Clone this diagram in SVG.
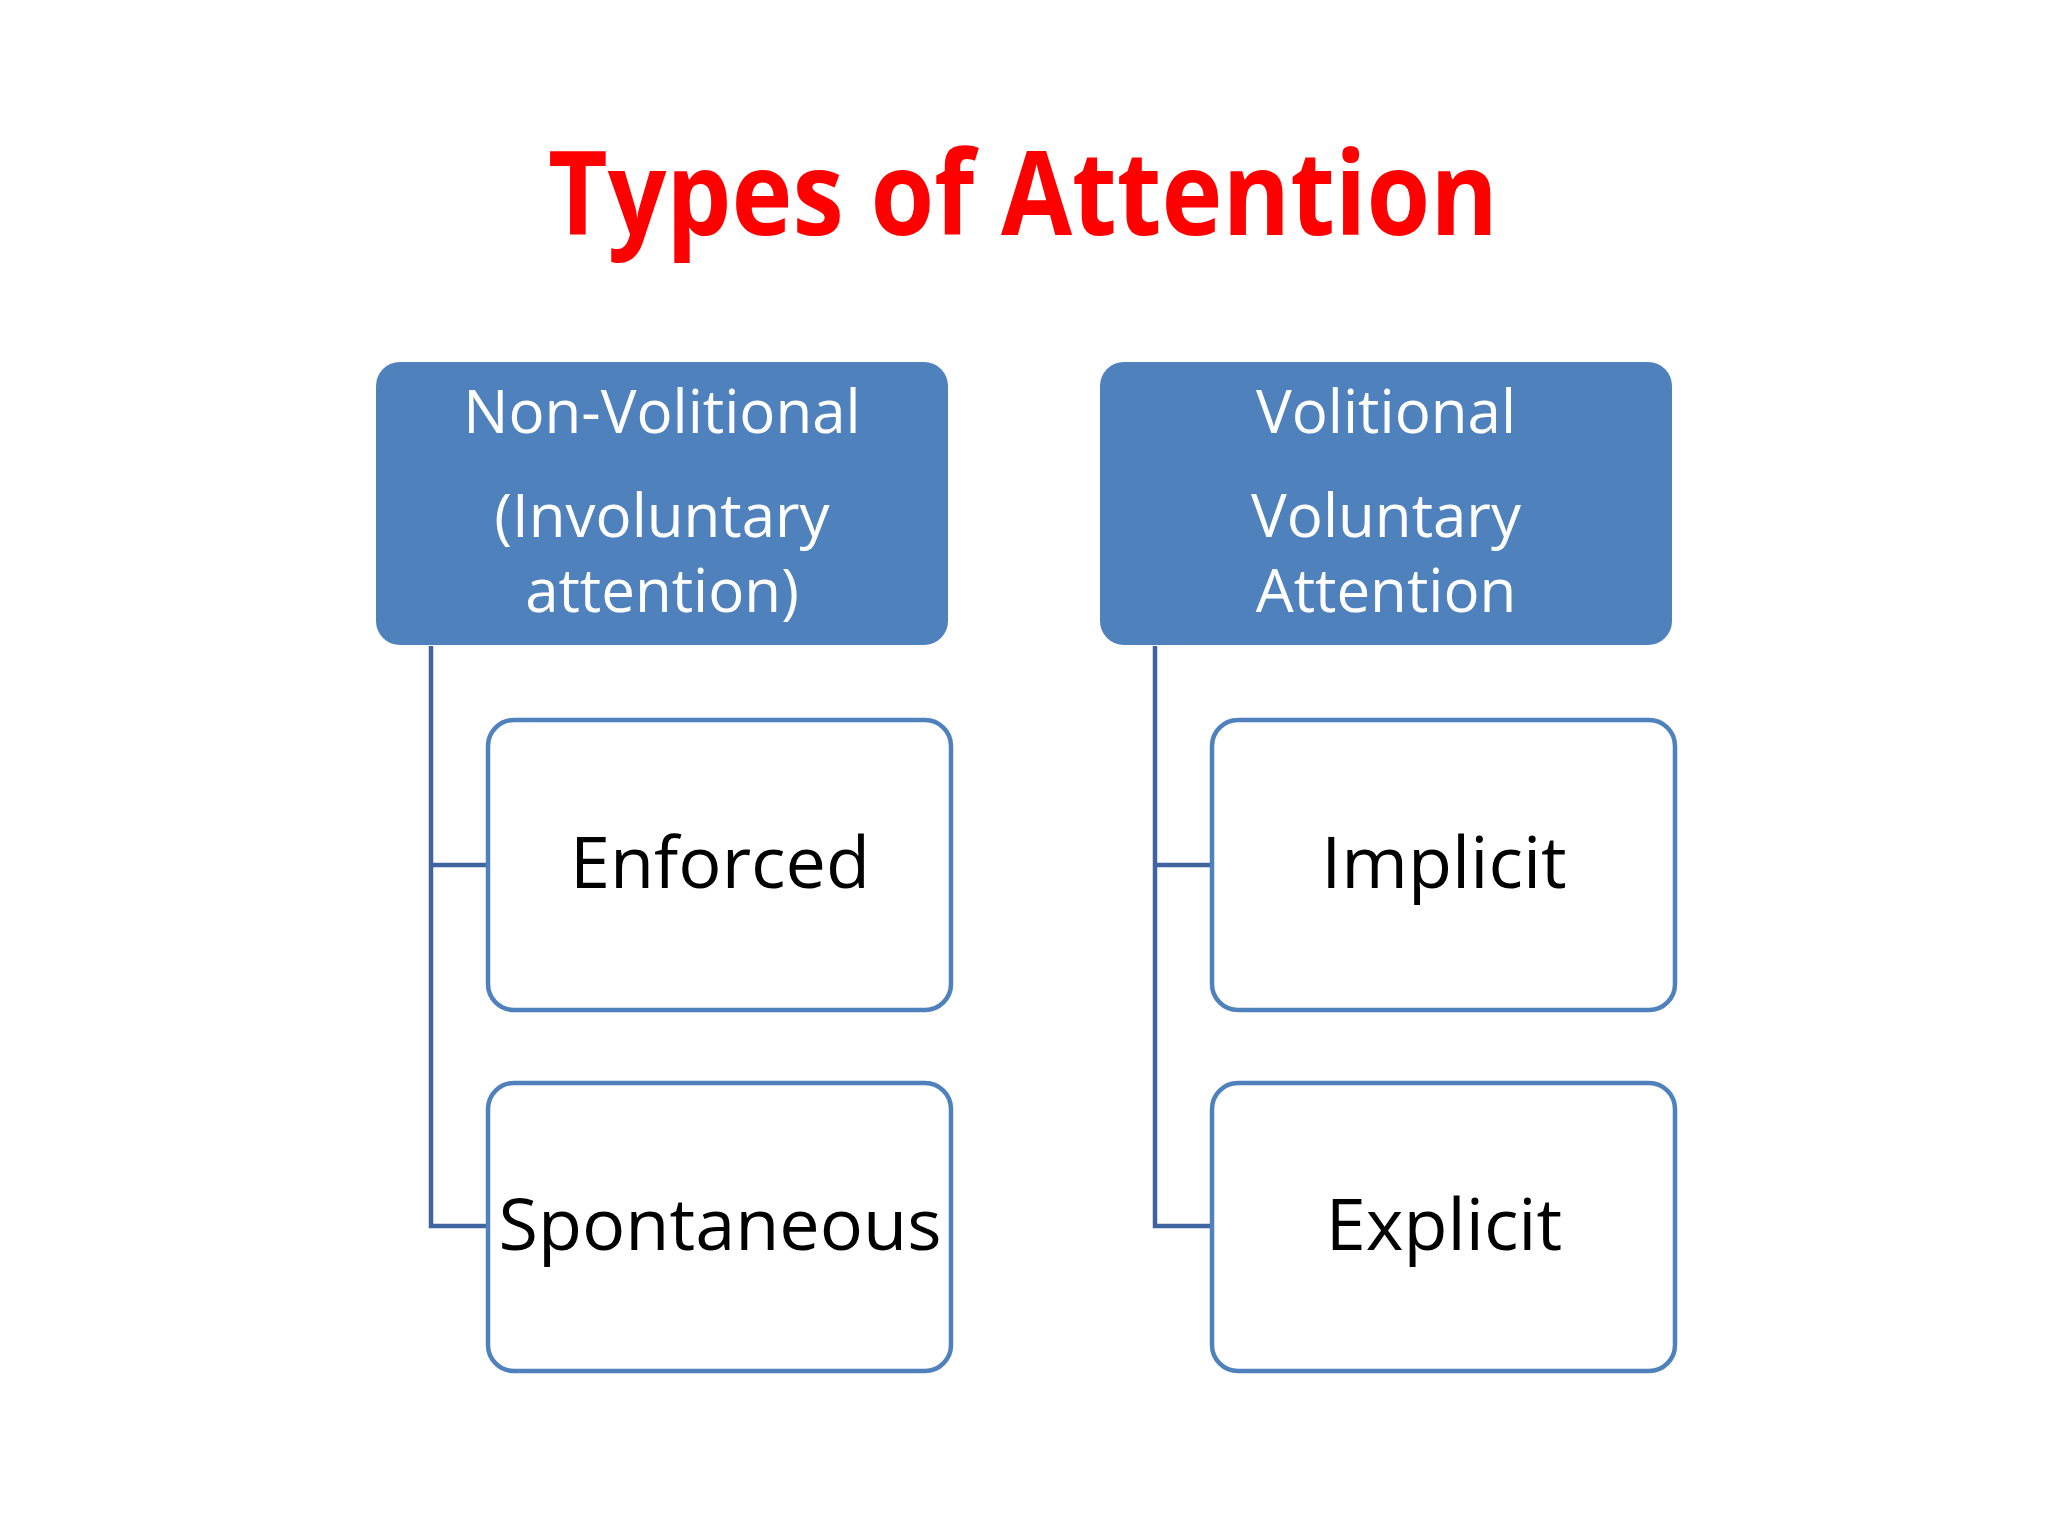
<svg xmlns="http://www.w3.org/2000/svg" width="2048" height="1536" viewBox="0 0 2048 1536">
<style>
.hdr{fill:#4F81BD}
.child{fill:#FFFFFF;stroke:#4F81BD;stroke-width:4.5}
.ht{font-family:"Open Sans","Liberation Sans",sans-serif;font-size:60px;fill:#FFFFFF;text-anchor:middle}
.ct{font-family:"Open Sans","Liberation Sans",sans-serif;font-size:72px;fill:#000000;text-anchor:middle}
.con{fill:none;stroke:#3F64A0;stroke-width:4.5}
</style>
<rect width="2048" height="1536" fill="#FFFFFF"/>
<text x="1023" y="235" font-family="'Open Sans','Liberation Sans',sans-serif" font-weight="bold" font-size="116" fill="#FF0000" text-anchor="middle" textLength="950" lengthAdjust="spacingAndGlyphs">Types of Attention</text>
<g id="connectors">
<path class="con" d="M431 646 V1226 H488 M431 865 H488"/>
<path class="con" d="M1155 646 V1226 H1212 M1155 865 H1212"/>
</g>
<g id="nonvolitional">
<rect class="hdr" x="376" y="362" width="572" height="283" rx="24"/>
<text class="ht" x="662" y="433">Non-Volitional</text>
<text class="ht" x="662" y="537">(Involuntary</text>
<text class="ht" x="662" y="612">attention)</text>
</g>
<g id="volitional">
<rect class="hdr" x="1100" y="362" width="572" height="283" rx="24"/>
<text class="ht" x="1386" y="433">Volitional</text>
<text class="ht" x="1386" y="537">Voluntary</text>
<text class="ht" x="1386" y="612">Attention</text>
</g>
<g id="enforced">
<rect class="child" x="488" y="720" width="463" height="290" rx="26"/>
<text class="ct" x="720" y="888">Enforced</text>
</g>
<g id="spontaneous">
<rect class="child" x="488" y="1083" width="463" height="288" rx="26"/>
<text class="ct" x="720" y="1250">Spontaneous</text>
</g>
<g id="implicit">
<rect class="child" x="1212" y="720" width="463" height="290" rx="26"/>
<text class="ct" x="1444" y="888">Implicit</text>
</g>
<g id="explicit">
<rect class="child" x="1212" y="1083" width="463" height="288" rx="26"/>
<text class="ct" x="1444" y="1250">Explicit</text>
</g>
</svg>
